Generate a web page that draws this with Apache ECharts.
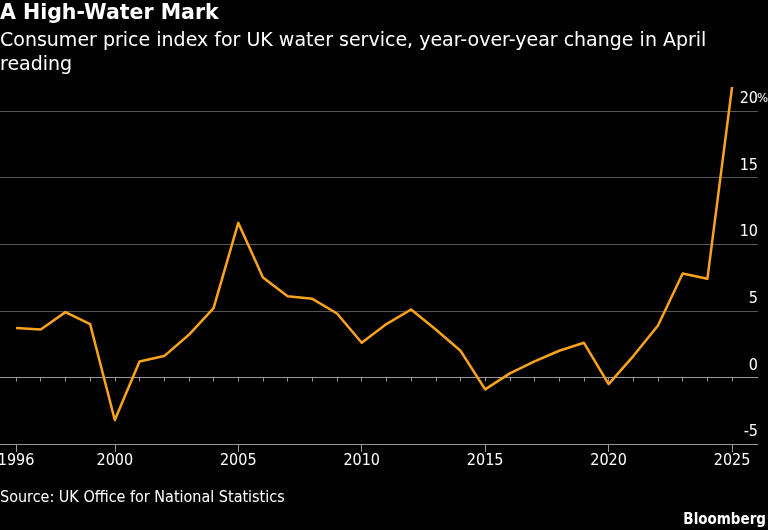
<!DOCTYPE html>
<html>
<head>
<meta charset="utf-8">
<script src="https://cdn.jsdelivr.net/npm/echarts@6/dist/echarts.min.js"></script>
<style>
  html, body { margin: 0; padding: 0; background: #000; }
  #chart { width: 768px; height: 530px; }
</style>
</head>
<body>
<div id="chart"></div>
<script>
// UK water service CPI, y/y change in April reading (%)
const years = [1996, 1997, 1998, 1999, 2000, 2001, 2002, 2003, 2004, 2005,
  2006, 2007, 2008, 2009, 2010, 2011, 2012, 2013, 2014, 2015,
  2016, 2017, 2018, 2019, 2020, 2021, 2022, 2023, 2024, 2025];
const values = [3.7, 3.6, 4.9, 4.0, -3.2, 1.2, 1.6, 3.2, 5.2, 11.6,
  7.5, 6.1, 5.9, 4.8, 2.6, 4.0, 5.1, 3.6, 2.0, -0.9,
  0.3, 1.2, 2.0, 2.6, -0.5, 1.6, 3.9, 7.8, 7.4, 21.8];
const labelYears = [1996, 2000, 2005, 2010, 2015, 2020, 2025];

const FONT = '"DejaVu Sans Condensed", "DejaVu Sans", sans-serif';
const FONT_WIDE = '"DejaVu Sans", sans-serif';

const chart = echarts.init(document.getElementById('chart'));

const option = {
  backgroundColor: '#000',
  animation: false,
  title: [
    {
      text: 'A High-Water Mark',
      left: 0, top: 2, padding: 0,
      textStyle: { color: '#fff', fontFamily: FONT_WIDE, fontSize: 20.5, fontWeight: 'bold', lineHeight: 24 }
    },
    {
      text: 'Consumer price index for UK water service, year-over-year change in April\nreading',
      left: 0, top: 29, padding: 0,
      textStyle: { color: '#fff', fontFamily: FONT_WIDE, fontSize: 19, fontWeight: 'normal', lineHeight: 24 }
    },
    {
      text: 'Source: UK Office for National Statistics',
      left: 0, top: 488, padding: 0,
      textStyle: { color: '#fff', fontFamily: FONT, fontSize: 16, fontWeight: 'normal', lineHeight: 20 }
    },
    {
      text: 'Bloomberg',
      right: 2, top: 510, padding: 0,
      textStyle: { color: '#fff', fontFamily: FONT, fontSize: 15, fontWeight: 'bold', lineHeight: 20 }
    }
  ],
  grid: { left: 0, right: 10, top: 111, bottom: 86, outerBoundsMode: 'none', containLabel: false },
  xAxis: [
    {
      type: 'value', min: 1995.35, max: 2026.05,
      axisLine: { show: true, lineStyle: { color: '#9a9a9a', width: 1 } },
      axisTick: { show: true, length: 4, customValues: years, lineStyle: { color: '#9a9a9a' } },
      axisLabel: { show: false },
      splitLine: { show: false }
    },
    {
      type: 'value', min: 1995.35, max: 2026.05, position: 'bottom',
      axisLine: { show: false },
      axisTick: { show: true, length: 8, customValues: labelYears, lineStyle: { color: '#9a9a9a' } },
      axisLabel: {
        show: true, customValues: labelYears, margin: 9, hideOverlap: false,
        color: '#fff', fontFamily: FONT, fontSize: 16,
        formatter: v => String(v)
      },
      splitLine: { show: false }
    }
  ],
  yAxis: {
    type: 'value', position: 'right', min: -5, max: 20, interval: 5,
    axisLine: { show: false },
    axisTick: { show: false },
    axisLabel: {
      inside: true, margin: -9,
      verticalAlign: 'bottom', padding: [0, 0, 4, 0],
      color: '#fff', fontFamily: FONT, fontSize: 16, lineHeight: 16,
      formatter: v => '{n|' + v + '}{p|' + (v === 20 ? '%' : ' ') + '}',
      rich: {
        n: { color: '#fff', fontFamily: FONT, fontSize: 16, lineHeight: 16 },
        p: { color: '#fff', fontFamily: FONT, fontSize: 13, lineHeight: 16, width: 9, align: 'left' }
      }
    },
    splitLine: {
      show: true,
      lineStyle: { color: ['#9a9a9a', '#bdbdbd', '#555555', '#555555', '#555555', '#555555'], width: 1 }
    }
  },
  series: [
    {
      type: 'line',
      xAxisIndex: 0,
      data: years.map((y, i) => [y, values[i]]),
      symbol: 'none',
      clip: false,
      lineStyle: { color: '#fba31c', width: 2.5, join: 'round' }
    }
  ]
};

chart.setOption(option);
</script>
</body>
</html>
